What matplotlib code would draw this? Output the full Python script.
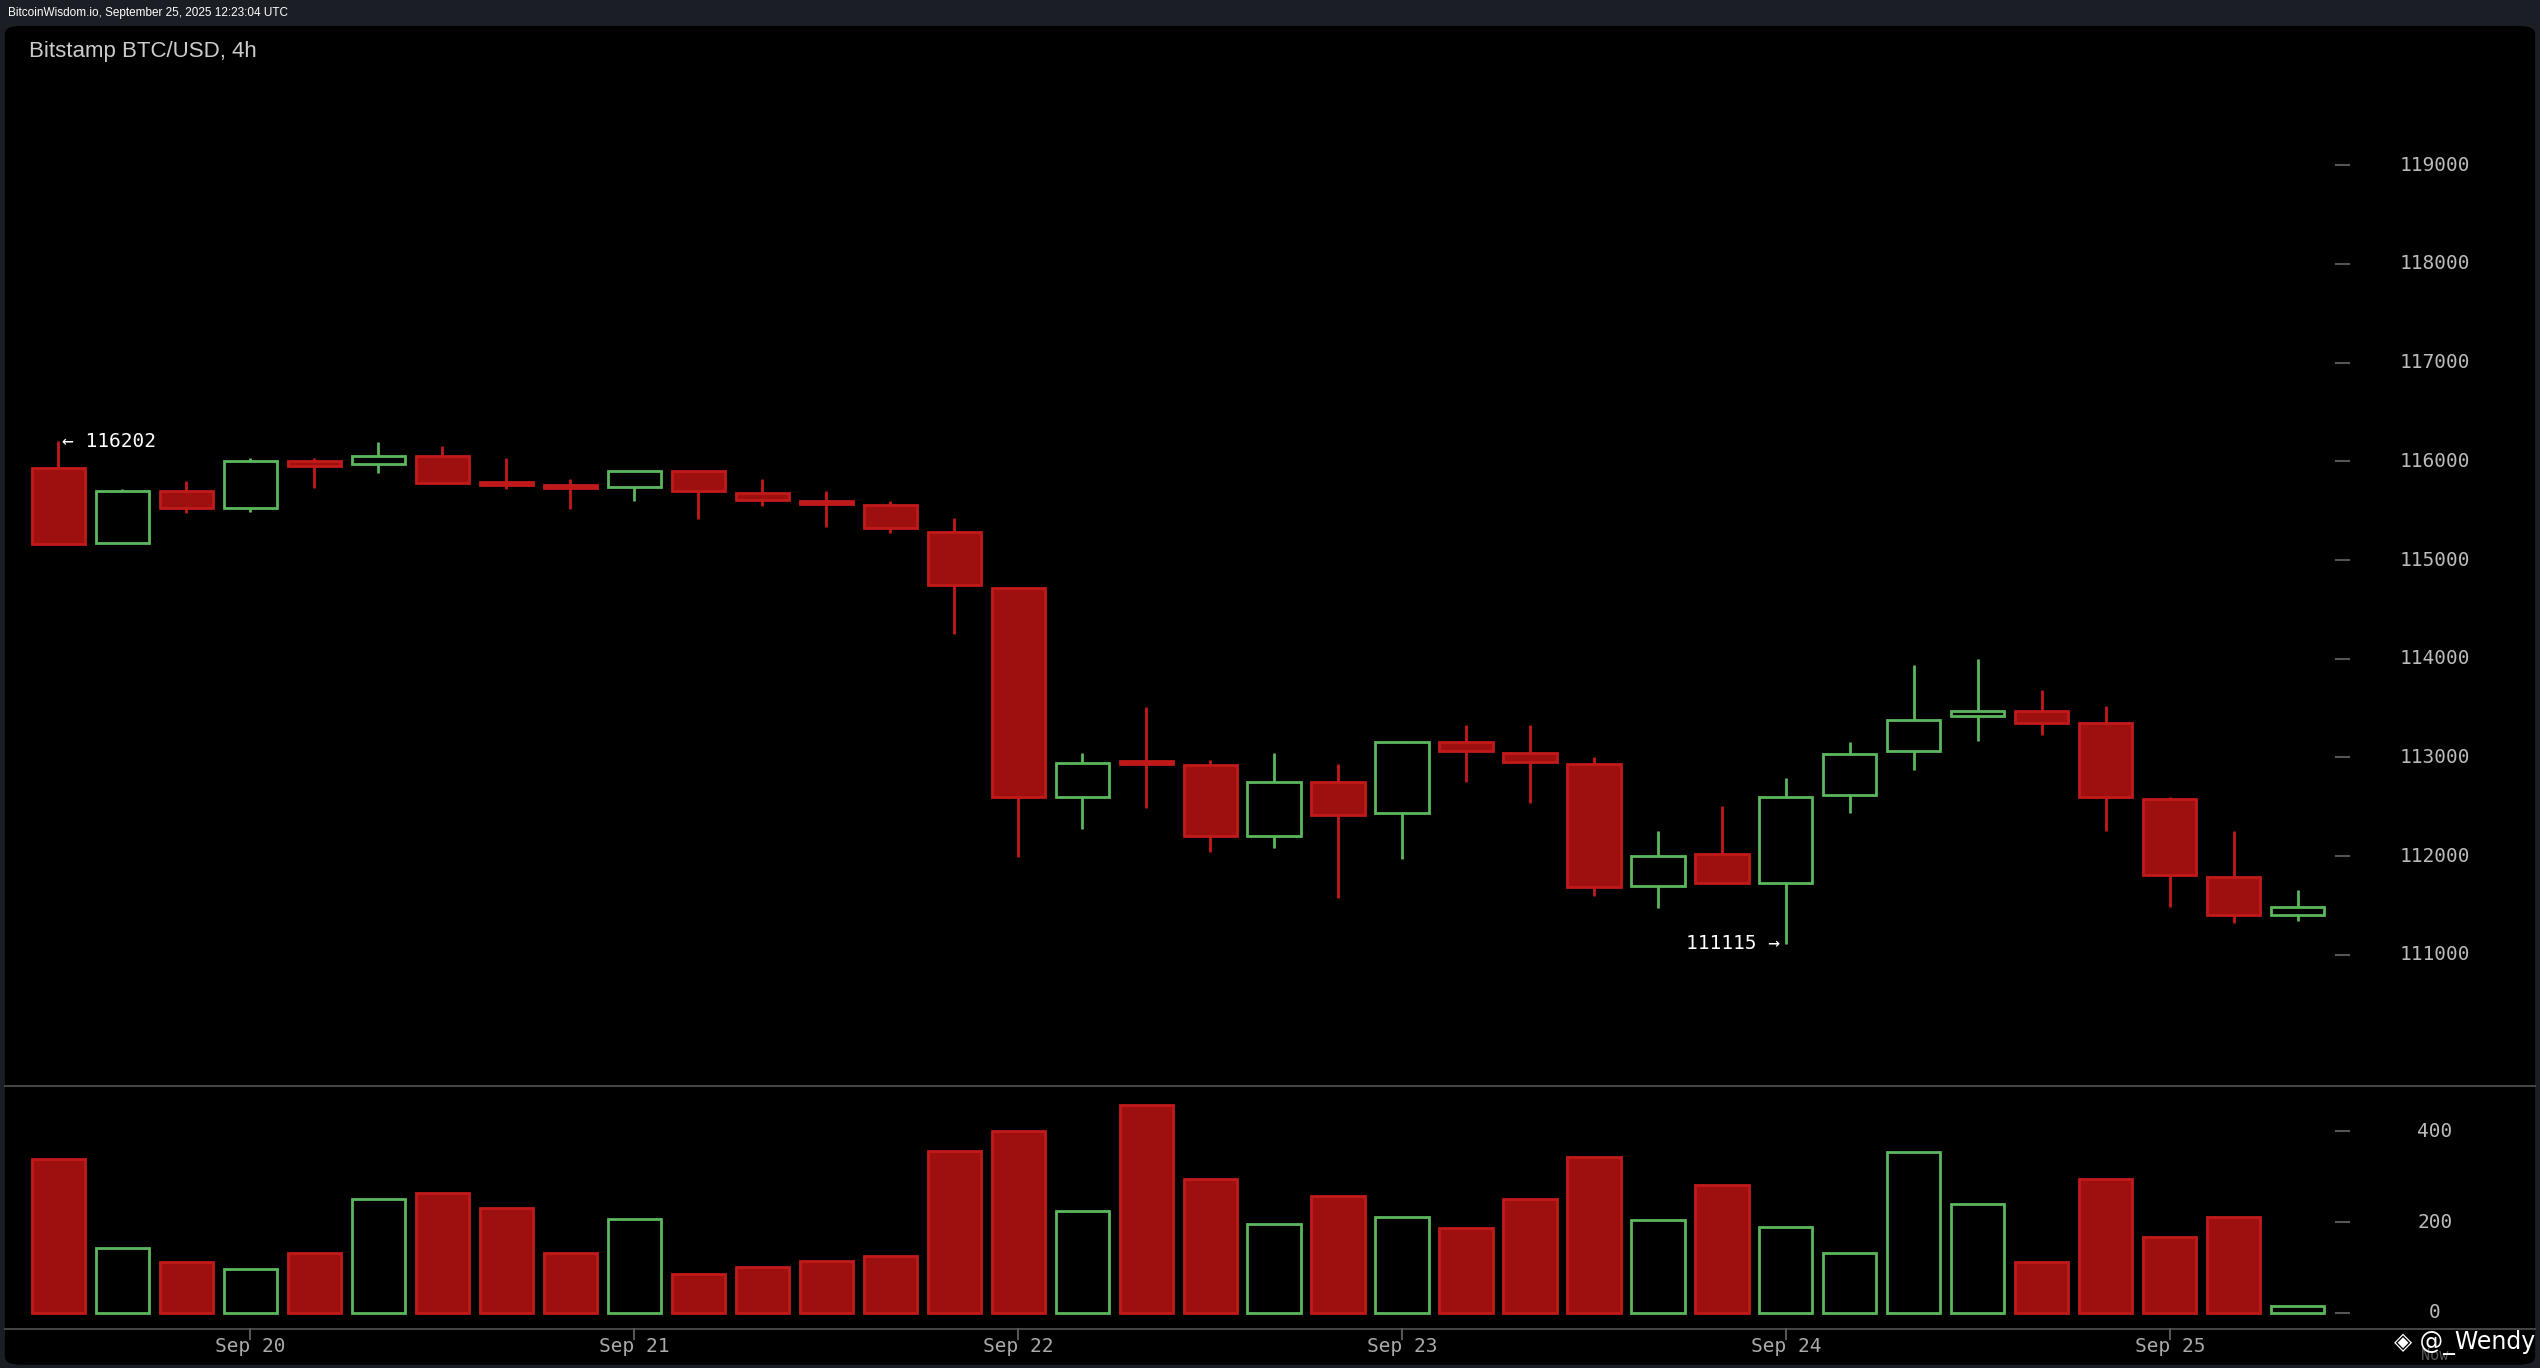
import matplotlib
matplotlib.use("Agg")
import matplotlib.pyplot as plt
from matplotlib.patches import Rectangle, FancyBboxPatch
import matplotlib.transforms as mtransforms

opens  = [115930,115170,115700,115530,116000,115970,116050,115780,115760,115740,115900,115680,
          115600,115560,115280,114720,112600,112950,112920,112200,112750,112440,113160,113050,
          112930,111700,112020,111730,112620,113070,113420,113470,113350,112580,111790,111400]
highs  = [116202,115720,115800,116030,116030,116200,116150,116030,115820,115900,115900,115820,
          115700,115600,115430,114720,113050,113510,112970,113050,112930,113170,113330,113330,
          113000,112250,112510,112790,113160,113940,114000,113680,113520,112600,112250,111660]
lows   = [115160,115170,115480,115490,115730,115880,115780,115720,115520,115600,115420,115550,
          115330,115270,114250,111990,112280,112490,112040,112080,111580,111970,112750,112540,
          111600,111470,111730,111115,112440,112870,113170,113230,112250,111480,111320,111340]
closes = [115160,115700,115530,116000,115950,116050,115780,115760,115730,115900,115700,115610,
          115570,115320,114750,112600,112940,112930,112200,112750,112420,113160,113070,112950,
          111690,112000,111730,112600,113030,113380,113470,113350,112600,111810,111400,111490]
volumes = [339,143,111,96,132,250,264,232,132,207,86,100,114,125,357,400,225,457,296,196,257,
           211,186,250,343,204,282,189,132,354,239,111,296,168,211,14]
price_ticks = [111000,112000,113000,114000,115000,116000,117000,118000,119000]
vol_ticks = [0,200,400]
date_labels = ["Sep 20","Sep 21","Sep 22","Sep 23","Sep 24","Sep 25"]
date_idx = [3,9,15,21,27,33]

W, H = 1568, 844
fig = plt.figure(figsize=(25.4, 13.68), dpi=100, facecolor="#1b1e25")
def fx(x): return x / W
def fy(y): return 1 - y / H

fig.patches.append(FancyBboxPatch((fx(3), fy(842)), fx(1562), fy(16) - fy(842),
                                  boxstyle="round,pad=0,rounding_size=0.006",
                                  transform=fig.transFigure, facecolor="black", edgecolor="none", zorder=-10))
fig.text(fx(5), fy(8), "BitcoinWisdom.io, September 25, 2025 12:23:04 UTC", color="white",
         fontsize=8.5, va="center", ha="left", family="Liberation Sans")

xl = ((5 - 36) / 39.5, (1560 - 36) / 39.5)
axp = fig.add_axes([fx(5), fy(670), fx(1555), fy(16) - fy(670)], zorder=5)
axv = fig.add_axes([fx(5), fy(820), fx(1555), fy(670) - fy(820)], zorder=5)
for ax in (axp, axv):
    ax.patch.set_alpha(0)
    ax.set_xlim(*xl)
    ax.set_xticks([]); ax.set_yticks([])
    for s in ax.spines.values():
        s.set_visible(False)
axp.set_ylim(109672, 120410)
axv.set_ylim(-36, 500)

RED_F, RED_E, GRN = "#9e0f0f", "#c21a1a", "#5cb85c"
bw = 0.83
for i, (o, h, l, c, v) in enumerate(zip(opens, highs, lows, closes, volumes)):
    up = c >= o
    col = GRN if up else RED_E
    lo_b, hi_b = min(o, c), max(o, c)
    axp.plot([i, i], [l, lo_b], color=col, lw=2, solid_capstyle="butt")
    axp.plot([i, i], [hi_b, h], color=col, lw=2, solid_capstyle="butt")
    hb = max(hi_b - lo_b, 30)
    axp.add_patch(Rectangle((i - bw / 2, lo_b), bw, hb, facecolor="none" if up else RED_F,
                            edgecolor=col, lw=2))
    axv.add_patch(Rectangle((i - bw / 2, 0), bw, v, facecolor="none" if up else RED_F,
                            edgecolor=col, lw=2))

mono = "DejaVu Sans Mono"
tx = (1442 - 36) / 39.5
tx2 = (1450 - 36) / 39.5
lx = (1503 - 36) / 39.5
for p in price_ticks:
    axp.plot([tx, tx2], [p, p], color="#555555", lw=1.5)
    axp.text(lx, p, str(p), color="#bbbbbb", fontsize=14, ha="center", va="center", family=mono)
for v in vol_ticks:
    axv.plot([tx, tx2], [v, v], color="#555555", lw=1.5)
    axv.text(lx, v, str(v), color="#bbbbbb", fontsize=14, ha="center", va="center", family=mono)

fig.add_artist(plt.Line2D([fx(3), fx(1565)], [fy(670), fy(670)], color="#444444", lw=1.5))
fig.add_artist(plt.Line2D([fx(3), fx(1565)], [fy(820), fy(820)], color="#444444", lw=1.5))

trans = mtransforms.blended_transform_factory(axv.transData, fig.transFigure)
for d, lab in zip(date_idx, date_labels):
    fig.add_artist(plt.Line2D([d, d], [fy(820), fy(826)], color="#555555", lw=1.5, transform=trans))
    fig.text(d, fy(831), lab, transform=trans, color="#aaaaaa", fontsize=14, ha="center", va="center", family=mono)
fig.text(fx(1503), fy(836), "Now", color="#555555", fontsize=11, ha="center", va="center", family=mono)

fig.text(fx(18), fy(32), "Bitstamp BTC/USD, 4h", color="#cccccc", fontsize=16, ha="left", va="center",
         family="Liberation Sans")
axp.text(0.05, highs[0], "← 116202", color="white", fontsize=14, ha="left", va="center", family=mono)
imin = lows.index(min(lows))
axp.text(imin - 0.1, min(lows), "%d →" % min(lows), color="white", fontsize=14, ha="right", va="center",
         family=mono)
fig.text(fx(1565), fy(828), "◈ @_Wendy", color="white", fontsize=17, ha="right", va="center",
         family="DejaVu Sans", zorder=10)

fig.savefig("out.png", dpi=100, facecolor=fig.get_facecolor())
